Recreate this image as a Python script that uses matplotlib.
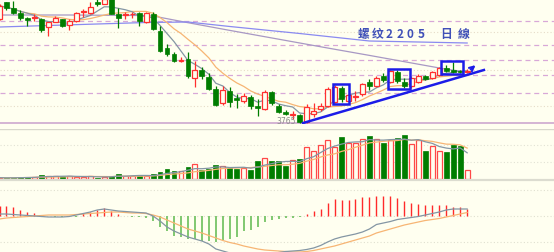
import matplotlib
matplotlib.use('Agg')
import matplotlib.pyplot as plt
import numpy as np
import pandas as pd
from matplotlib.patches import Rectangle

plt.rcParams['font.family'] = ['Noto Sans CJK SC', 'DejaVu Sans']

# daily bars
opens  = [4805, 4972, 4912, 4865, 4815, 4818, 4805, 4728, 4778, 4805,
          4745, 4788, 4878, 4865, 4978, 4958, 5025, 4858, 4845, 4852,
          4865, 4772, 4855, 4682, 4512, 4455, 4385, 4405, 4215, 4295,
          4228, 4105, 3962, 4088, 4015, 3990, 4025, 3935, 3905, 4075,
          3935, 3880, 3850, 3845, 3775, 3855, 3905, 3935, 3975, 4115,
          3985, 4030, 4055, 4175, 4135, 4235, 4175, 4275, 4175, 4135,
          4175, 4235, 4215, 4245, 4315, 4295, 4285, 4275]
highs  = [4955, 4980, 4988, 4895, 4825, 4855, 4812, 4778, 4832, 4808,
          4805, 4872, 4905, 4972, 5005, 5015, 5035, 4915, 4872, 4875,
          4872, 4872, 4872, 4738, 4555, 4472, 4422, 4472, 4388, 4322,
          4265, 4132, 4132, 4125, 4055, 4065, 4045, 4005, 4095, 4085,
          3955, 3895, 3885, 3855, 3955, 3965, 3965, 4125, 4145, 4135,
          4065, 4085, 4165, 4205, 4235, 4265, 4295, 4295, 4215, 4235,
          4255, 4245, 4285, 4325, 4345, 4375, 4295, 4305]
lows   = [4795, 4895, 4860, 4795, 4738, 4788, 4672, 4638, 4772, 4722,
          4698, 4778, 4822, 4855, 4938, 4955, 4855, 4715, 4805, 4815,
          4738, 4765, 4695, 4478, 4438, 4378, 4372, 4212, 4122, 4205,
          4095, 3932, 3945, 3925, 3915, 3965, 3905, 3835, 3895, 3945,
          3865, 3845, 3805, 3765, 3765, 3825, 3885, 3925, 3965, 3975,
          3975, 3985, 4035, 4095, 4125, 4175, 4165, 4165, 4115, 4115,
          4165, 4195, 4205, 4235, 4275, 4265, 4265, 4265]
closes = [4935, 4912, 4865, 4812, 4792, 4825, 4695, 4772, 4812, 4738,
          4788, 4865, 4885, 4922, 4958, 5005, 4860, 4815, 4852, 4858,
          4788, 4865, 4705, 4488, 4452, 4385, 4392, 4232, 4298, 4232,
          4105, 3945, 4095, 3972, 4000, 4035, 3938, 3920, 4075, 3965,
          3875, 3855, 3855, 3775, 3925, 3885, 3935, 4105, 4125, 4005,
          4045, 4035, 4155, 4135, 4215, 4195, 4285, 4185, 4135, 4215,
          4235, 4205, 4275, 4315, 4285, 4275, 4275, 4285]
volumes = [13000, 10000, 13000, 17000, 20000, 20000, 37000, 27000, 27000, 27000,
           27000, 23000, 20000, 27000, 13000, 20000, 30000, 53000, 27000, 30000,
           37000, 30000, 47000, 70000, 97000, 77000, 77000, 120000, 147000, 93000,
           103000, 137000, 127000, 113000, 100000, 110000, 93000, 180000, 210000, 177000,
           180000, 130000, 187000, 197000, 320000, 280000, 337000, 387000, 320000, 420000,
           363000, 363000, 397000, 427000, 397000, 360000, 387000, 410000, 437000, 347000,
           387000, 280000, 330000, 280000, 270000, 343000, 330000, 87000]

# long moving averages, read at a few candles
ma_purple_idx = [0, 10, 20, 22, 27, 33, 40, 47, 53, 60, 64, 67]
ma_purple_val = [4845, 4845, 4840, 4835, 4768, 4691, 4603, 4515, 4441, 4353, 4303, 4275]
ma_blue_idx = [0, 7, 14, 21, 27, 33, 38, 43, 49, 53, 60, 67]
ma_blue_val = [4725, 4740, 4755, 4770, 4775, 4730, 4695, 4660, 4615, 4585, 4575, 4565]

# MACD
dif = [4, 4, 3, 2, 1, 0, -1, -2, -2, -2, -1, 2, 5, 8, 12, 14, 12, 10, 9, 8,
       7, 6, 0, -10, -22, -30, -36, -42, -46, -50, -56, -66, -70, -74, -76, -78,
       -79, -79, -78, -76, -73, -71, -70, -69, -67, -64, -59, -52, -46, -42,
       -39, -36, -32, -26, -17, -14, -11, -7, -5, -3, -1, 2, 5, 8, 12, 14, 14, 14]
dea = [-6, -4, -3, -2, -1, 0, 1, 2, 2, 2, 2, 3, 4, 5, 6, 7, 8, 8, 7, 6,
       6, 5, 2, -2, -8, -14, -20, -26, -30, -34, -39, -44, -49, -53, -56, -60,
       -63, -66, -68, -69, -70, -71, -72, -72, -71, -69, -66, -63, -60, -56,
       -52, -48, -44, -40, -34, -30, -26, -22, -18, -15, -12, -9, -7, -5, -2, 1, 4, 7]
macd_hist = [20, 21, 19, 13, 8, 6, 2, 1, -1, -1, -1, -1, 6, 8, 13, 17, 11, 5, 1, -1,
             -2, -3, -9, -22, -30, -39, -42, -45, -45, -49, -50, -52, -47, -45, -41, -30,
             -27, -22, -11, -7, -5, -4, -3, -2, 5, 10, 15, 27, 35, 33,
             33, 34, 38, 39, 41, 40, 40, 37, 30, 26, 25, 23, 23, 23, 22, 19, 18, 15]

# annotations
title_chars = ['螺', '纹', '2', '2', '0', '5', '日', '線']
boxes = [(47.8, 50.1, 48, 50), (55.7, 58.8, 56, 58), (63.3, 66.4, 64, 66)]
trend_x = [43.5, 69.4]
trend_y = [3765, 4295]
grid_main = [4782, 4542, 4392, 4242, 4062]
grid_light = [4672, 4292, 3932]

BG = '#fffff0'
RED = '#ff3030'
GREEN = '#007d00'
BLUE = '#1c1ce8'
W, H = 554, 253
STEP = 6.98  # pixels per bar

n = len(closes)
x = np.arange(n)
up = np.array(closes) >= np.array(opens)
o = np.array(opens); c = np.array(closes); hi = np.array(highs); lo = np.array(lows)

fig = plt.figure(figsize=(W / 100, H / 100), dpi=100, facecolor=BG)

def frac(top_px, bot_px):
    return [0, (H - bot_px) / H, 1, (bot_px - top_px) / H]

xlim = (0.5 / STEP, 554.5 / STEP)

ax = fig.add_axes(frac(0, 124.5))
axv = fig.add_axes(frac(129.5, 180))
axm = fig.add_axes(frac(182, 253))
for a in (ax, axv, axm):
    a.set_facecolor(BG)
    a.set_xlim(*xlim)
    a.axis('off')

# ---- price panel
ax.set_ylim(3760, 5005)
for g in grid_main:
    ax.axhline(g, color='#d8a8d8', lw=0.9, ls=(0, (4, 3)), zorder=0)
for g in grid_light:
    ax.axhline(g, color='#e6dcc8', lw=0.8, ls=(0, (1, 2)), zorder=0)
ax.axhline(3762, color='#d4b4d4', lw=1.4, zorder=0)

ma5 = pd.Series(closes).rolling(5, min_periods=1).mean()
ma10 = pd.Series(closes).rolling(10, min_periods=1).mean()
ax.plot(ma_purple_idx, ma_purple_val, color='#a898c4', lw=0.9, zorder=1)
ax.plot(ma_blue_idx, ma_blue_val, color='#8a8af0', lw=0.9, zorder=1)
ax.plot(x, ma10, color='#f7b574', lw=0.9, zorder=1)
ax.plot(x, ma5, color='#8496a4', lw=0.9, zorder=1)

bw = 0.7
body_lo = np.minimum(o, c); body_hi = np.maximum(o, c)
body_h = np.maximum(body_hi - body_lo, 3)
# wicks
ax.vlines(x[~up], lo[~up], hi[~up], color=GREEN, lw=0.9, zorder=2)
ax.vlines(x[up], body_hi[up], hi[up], color=RED, lw=0.9, zorder=2)
ax.vlines(x[up], lo[up], body_lo[up], color=RED, lw=0.9, zorder=2)
ax.bar(x[~up], body_h[~up], bottom=body_lo[~up], width=bw, color=GREEN,
       edgecolor=GREEN, lw=0.5, zorder=3)
ax.bar(x[up], body_h[up], bottom=body_lo[up], width=bw, color=BG,
       edgecolor=RED, lw=0.9, zorder=3)

for x0, x1, i0, i1 in boxes:
    top = max(highs[i0:i1 + 1]) + 10
    bot = min(lows[i0:i1 + 1]) - 10
    ax.add_patch(Rectangle((x0, bot), x1 - x0, top - bot, fill=False,
                           edgecolor=BLUE, lw=1.8, zorder=5))

ax.plot(trend_x, trend_y, color=BLUE, lw=1.8, zorder=4)
ax.annotate('', xy=(68.5, 4362), xytext=(67.2, 4283),
            arrowprops=dict(arrowstyle='->', color=BLUE, lw=1.5,
                            mutation_scale=8), zorder=5)

low_i = int(np.argmin(lows))
ax.text(low_i - 0.55, lows[low_i] + 22, str(lows[low_i]), color='#8c8c8c',
        fontsize=5.5, ha='right', va='center', family='DejaVu Sans')

# title, letter-spaced like the original
tx = 358
for ch in title_chars:
    ax.text(tx / STEP, 4662, ch, color='#4050b8', fontsize=8.5,
            fontweight='bold', ha='left', va='center')
    if ch == '5':
        tx += 23
    elif ch.isdigit():
        tx += 10.7
    elif ch == '日':
        tx += 17
    else:
        tx += 14

# ---- volume panel
vmax = 505000
axv.set_ylim(0, vmax)
for g in (337000, 170000):
    axv.axhline(g, color='#e2e2d4', lw=0.8, ls=(0, (1, 2)), zorder=0)
axv.axhline(vmax, color='#d8d8cc', lw=1.0, zorder=0)
vol = np.array(volumes)
axv.bar(x[~up], vol[~up], width=bw, color=GREEN, edgecolor=GREEN, lw=0.5, zorder=2)
axv.bar(x[up], vol[up], width=bw, color=BG, edgecolor='#ff4848', lw=0.9, zorder=2)
vma5 = pd.Series(volumes).rolling(5, min_periods=1).mean()
vma10 = pd.Series(volumes).rolling(10, min_periods=1).mean()
axv.plot(x, vma10, color='#f7b574', lw=0.9, zorder=3)
axv.plot(x, vma5, color='#8496a4', lw=0.9, zorder=3)

fig.add_artist(plt.Line2D([0, 1], [(H - 181) / H] * 2, transform=fig.transFigure,
                          color='#dcdcd0', lw=1.6))

# ---- MACD panel
axm.set_ylim(-72, 70)
for g in (52, 0, -52):
    axm.axhline(g, color='#e0e0d0', lw=0.8, ls=(0, (1, 2)), zorder=0)
hist = np.array(macd_hist)
pos = hist > 0
axm.vlines(x[pos], 0, hist[pos], color='#ff2a2a', lw=1.0, zorder=2)
axm.vlines(x[~pos], 0, hist[~pos], color='#80c870', lw=1.4, zorder=2)
axm.plot(x, dea, color='#f7b574', lw=0.9, zorder=3)
axm.plot(x, dif, color='#8496a4', lw=0.9, zorder=3)

fig.savefig('out.png', dpi=100, facecolor=BG)
